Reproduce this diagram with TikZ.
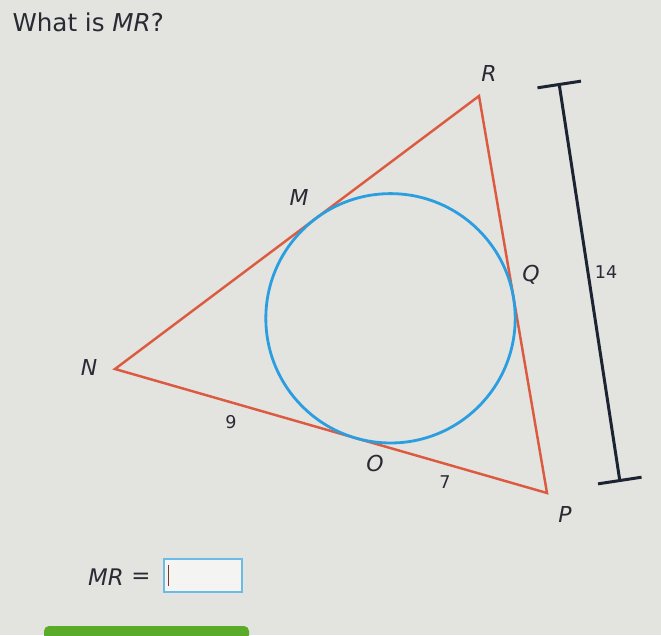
\documentclass[tikz,border=0pt]{standalone}
\usepackage{fontspec}
\setmainfont{DejaVu Sans}
\usepackage{tikz}
\usetikzlibrary{arrows.meta}

\definecolor{paper}{HTML}{E3E3E0}
\definecolor{sidered}{HTML}{DC5A40}
\definecolor{circblue}{HTML}{2B9EE0}
\definecolor{barblack}{HTML}{1C2333}
\definecolor{inkgray}{HTML}{2A2A35}
\definecolor{btngreen}{HTML}{5AAB2A}

\begin{document}
\begin{tikzpicture}[x=0.02cm,y=-0.02cm,semithick]
    \tikzstyle{vlabel}=[text=inkgray, font=\fontsize{12.5}{14}\selectfont\itshape]
    \tikzstyle{numlabel}=[text=inkgray, font=\fontsize{10}{12}\selectfont]
    \tikzstyle{side}=[draw=sidered, line width=1.4pt, line join=miter]
    \tikzstyle{incircle}=[draw=circblue, line width=1.6pt]
    \tikzstyle{measure}=[draw=barblack, line width=1.7pt, {Bar[width=0.88cm]}-{Bar[width=0.88cm]}]

    \fill[paper] (0,0) rectangle (661,635);
    \useasboundingbox (0,0) rectangle (661,635);

    \node[anchor=base west, inner sep=0pt, text=inkgray, font=\fontsize{14}{16}\selectfont] (title) at (12,32) {What is \textit{MR}?};

    % triangle and incircle
    \coordinate (N) at (115,369);
    \coordinate (R) at (479,96);
    \coordinate (P) at (547,493);
    \coordinate (I) at (390.5,318.3);
    \draw[side] (N) -- (R) -- (P) -- cycle;
    \draw[incircle] (I) circle[radius=2.494cm];

    \node[vlabel] (lN) at (89,367) {N};
    \node[vlabel] (lR) at (489,73) {R};
    \node[vlabel] (lP) at (565,514) {P};
    \node[vlabel] (lM) at (299,197) {M};
    \node[vlabel] (lQ) at (531,275) {Q};
    \node[vlabel] (lO) at (375,463) {O};
    \node[numlabel] (l9) at (231,422) {9};
    \node[numlabel] (l7) at (445,482) {7};

    % length bar
    \coordinate (T1) at (559,83);
    \coordinate (T2) at (620,482);
    \draw[measure] (T1) -- (T2);
    \node[numlabel] (l14) at (606,272) {14};

    % answer line
    \node[vlabel, font=\fontsize{13}{15}\selectfont\itshape] (mr) at (106,577) {MR};
    \node[text=inkgray, font=\fontsize{13}{15}\selectfont] (eq) at (141,578) {=};
    \node[draw=circblue!70, fill=white!60!paper, line width=0.8pt, minimum width=1.56cm, minimum height=0.66cm] (box) at (203,575.5) {};
    \draw[sidered!60!black, line width=0.5pt] ([xshift=0.1cm,yshift=-0.13cm]box.north west) -- ([xshift=0.1cm,yshift=0.13cm]box.south west);

    \fill[btngreen, rounded corners=0.1cm] (44,626) rectangle (249,640);
\end{tikzpicture}
\end{document}
